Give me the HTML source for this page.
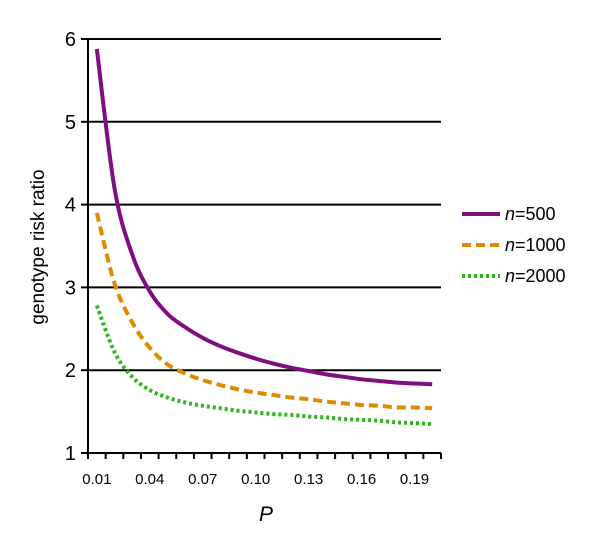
<!DOCTYPE html>
<html><head><meta charset="utf-8"><style>
body{margin:0;background:#fff}
svg{display:block;font-family:"Liberation Sans",Arial,sans-serif}
</style></head><body>
<svg id="chart" width="600" height="534" viewBox="0 0 600 534">
<g id="grid"></g>
<g id="series"></g>
<g id="axes"></g>
<text transform="translate(44,247) rotate(-90)" text-anchor="middle" font-size="19">genotype risk ratio</text>
<text x="266" y="521" text-anchor="middle" font-size="21" font-style="italic">P</text>
<g>
<g>
<line x1="462" y1="214" x2="500" y2="214" stroke="#7f0f7f" stroke-width="4"/>
<text x="505" y="220" font-size="18"><tspan font-style="italic">n</tspan>=500</text></g>
<g>
<line x1="462" y1="245" x2="500" y2="245" stroke="#e08a00" stroke-width="4" stroke-dasharray="9,5"/>
<text x="505" y="251" font-size="18"><tspan font-style="italic">n</tspan>=1000</text></g>
<g>
<line x1="462" y1="276" x2="500" y2="276" stroke="#2fb31f" stroke-width="4" stroke-dasharray="3,3"/>
<text x="505" y="282" font-size="18"><tspan font-style="italic">n</tspan>=2000</text></g>
</g>
</svg>
<script>
const categories=[0.01,0.02,0.03,0.04,0.05,0.06,0.07,0.08,0.09,0.10,0.11,0.12,0.13,0.14,0.15,0.16,0.17,0.18,0.19,0.20];
const n500=[5.88,4.2,3.4,2.95,2.68,2.52,2.39,2.29,2.21,2.14,2.08,2.03,1.99,1.95,1.92,1.89,1.87,1.85,1.84,1.83];
const n1000=[3.9,3.05,2.58,2.27,2.07,1.96,1.88,1.82,1.77,1.73,1.7,1.67,1.65,1.62,1.6,1.58,1.57,1.55,1.55,1.54];
const n2000=[2.78,2.22,1.92,1.76,1.67,1.61,1.57,1.54,1.51,1.49,1.47,1.46,1.44,1.43,1.41,1.4,1.39,1.37,1.36,1.35];
const yTicks=[1,2,3,4,5,6];
const xTickLabels=["0.01","0.04","0.07","0.10","0.13","0.16","0.19"];
const NS="http://www.w3.org/2000/svg";
const X0=88,X1=441,Y0=453,Y1=39,ymin=1,ymax=6;
const bw=(X1-X0)/categories.length;
const xs=i=>X0+bw*(i+0.5);
const ys=v=>Y0-(v-ymin)/(ymax-ymin)*(Y0-Y1);
function mk(t,a,p){const e=document.createElementNS(NS,t);for(const k in a)e.setAttribute(k,a[k]);p.appendChild(e);return e;}
const grid=document.getElementById('grid'),axes=document.getElementById('axes'),ser=document.getElementById('series');
yTicks.forEach(v=>{
 if(v>ymin){const l=mk('line',{x1:X0,x2:X1,y1:ys(v),y2:ys(v),stroke:'#000','stroke-width':2},grid);
 
 }
 const tk=mk('line',{x1:X0-7,x2:X0,y1:ys(v),y2:ys(v),stroke:'#000','stroke-width':2},axes);
 
 
 const t=mk('text',{x:X0-12,y:ys(v)+7,'text-anchor':'end','font-size':20},axes);t.textContent=v;
 
 
});
const ya=mk('line',{x1:X0,x2:X0,y1:Y1,y2:Y0,stroke:'#000','stroke-width':2},axes);


const xa=mk('line',{x1:X0-7,x2:X1,y1:Y0,y2:Y0,stroke:'#000','stroke-width':2},axes);


for(let i=0;i<=categories.length;i++){
 const tk=mk('line',{x1:X0+bw*i,x2:X0+bw*i,y1:Y0,y2:Y0+6,stroke:'#000','stroke-width':2},axes);
 
 
}
xTickLabels.forEach((s,j)=>{
 const t=mk('text',{x:xs(j*3),y:Y0+31,'text-anchor':'middle','font-size':15},axes);t.textContent=s;
 
 
});
function path(vals){
 const p=vals.map((v,i)=>[xs(i),ys(v)]);let d='M'+p[0][0]+','+p[0][1];
 for(let i=0;i<p.length-1;i++){const a=p[i-1]||p[i],b=p[i],c=p[i+1],e=p[i+2]||c;
  d+=' C'+(b[0]+(c[0]-a[0])/6)+','+(b[1]+(c[1]-a[1])/6)+' '+(c[0]-(e[0]-b[0])/6)+','+(c[1]-(e[1]-b[1])/6)+' '+c[0]+','+c[1];}
 return d;}
[[n500,'#7f0f7f','none','line-n500'],[n1000,'#e08a00','9,5','line-n1000'],[n2000,'#2fb31f','3,3','line-n2000']].forEach(s=>{
 const e=mk('path',{d:path(s[0]),fill:'none',stroke:s[1],'stroke-width':4,'stroke-dasharray':s[2]},ser);
 
 
});
</script>
</body></html>
